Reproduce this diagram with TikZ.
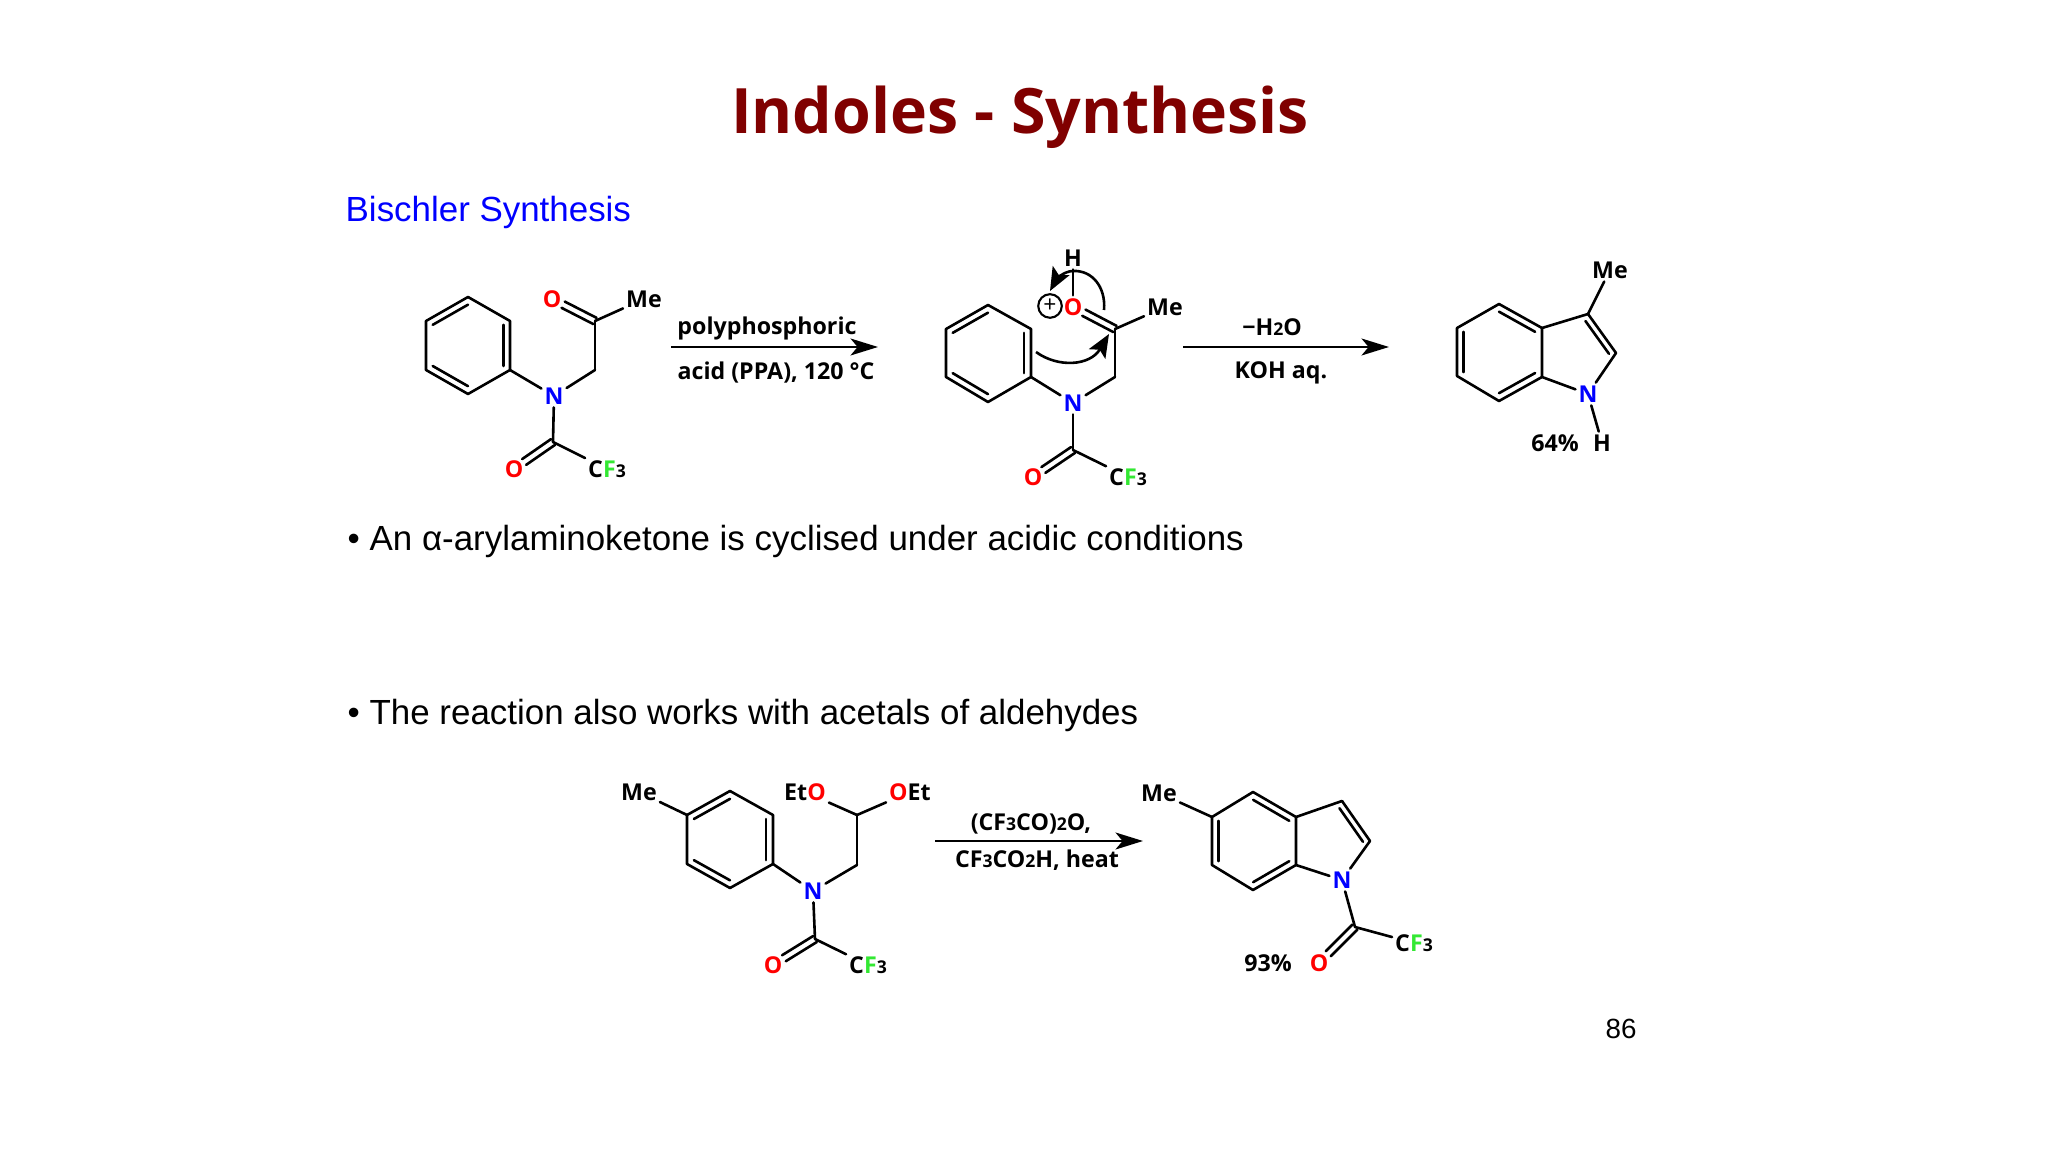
\documentclass[tikz,border=0pt]{standalone}
\usepackage{fontspec}
\setmainfont{Liberation Sans}
\newfontfamily\chemfont{Open Sans}
\usetikzlibrary{calc,arrows.meta}
\definecolor{rougetitre}{HTML}{800000}
\definecolor{vertF}{HTML}{33E833}
\newcommand{\Ind}[1]{{\fontsize{5}{5}\selectfont #1}}
\newcommand{\Oxy}{\textcolor{red}{O}}
\newcommand{\Azo}{\textcolor{blue}{N}}
\newcommand{\CFtrois}{C\textcolor{vertF}{F}\Ind{3}}
\newcommand{\Cycle}[6]{\draw[liaison] (#1)--(#2)--(#3)--(#4)--(#5)--(#6)--cycle ;}
\newcommand{\Interne}[3]{\draw[liaison] ($(#1)!0.16!(#3)$)--($(#2)!0.16!(#3)$) ;}
\newcommand{\Carbonyle}[2]{%
	\draw[liaison] ($(#1)!1pt!90:(#2)$)--($(#1)!0.74!(#2)!1pt!90:(#2)$) ;
	\draw[liaison] ($(#1)!1pt!-90:(#2)$)--($(#1)!0.74!(#2)!1pt!-90:(#2)$) ;
}
\begin{document}
\begin{tikzpicture}[x=0.01cm,y=-0.01cm]
	\tikzstyle{liaison}=[line width=0.74pt,line cap=round,line join=round]
	\tikzstyle{fleche}=[line width=0.78pt,-{Stealth[length=7.8pt,width=4.8pt,inset=2pt]}]
	\tikzstyle{courbe}=[line width=0.74pt,-{Stealth[length=6.6pt,width=5.4pt,inset=1.4pt]}]
	\tikzstyle{atome}=[font=\chemfont\bfseries\fontsize{6.6}{7}\selectfont,inner sep=0.7pt]
	\tikzstyle{etiquette}=[font=\chemfont\bfseries\fontsize{6.6}{7}\selectfont,inner sep=0pt]
	\tikzstyle{puce}=[font=\fontsize{9.93}{12}\selectfont,anchor=west,inner sep=0pt]
	\useasboundingbox (0,0) rectangle (2048,1152);
	\node[font=\chemfont\bfseries\fontsize{17.8}{20}\selectfont,text=rougetitre,inner sep=0pt] (titre) at (1020,117) {Indoles - Synthesis};
	\node[puce,text=blue] (bischler) at (345,212) {Bischler Synthesis};
	\node[puce] (puceA) at (347,541) {• An α-arylaminoketone is cyclised under acidic conditions};
	\node[puce] (puceB) at (347,715) {• The reaction also works with acetals of aldehydes};
	\node[font=\fontsize{7.9}{10}\selectfont,inner sep=0pt] (page) at (1621,1029) {86};
	% reactif
	\coordinate (Aa) at (468,297); \coordinate (Ab) at (510,321); \coordinate (Ac) at (510,370);
	\coordinate (Ad) at (468,394); \coordinate (Ae) at (426,370); \coordinate (Af) at (426,321);
	\coordinate (Ag) at (468,345);
	\coordinate (Ah) at (595,370); \coordinate (Ai) at (595,321); \coordinate (Aj) at (553,442);
	\node[atome] (AN) at (554,396) {\Azo};
	\node[atome] (AO) at (552,299) {\Oxy};
	\node[atome] (AMe) at (644,299) {Me};
	\node[atome] (AOb) at (514,469) {\Oxy};
	\node[atome] (ACF) at (607,469) {\CFtrois};
	\Cycle{Aa}{Ab}{Ac}{Ad}{Ae}{Af}
	\Interne{Aa}{Af}{Ag} \Interne{Ab}{Ac}{Ag} \Interne{Ad}{Ae}{Ag}
	\draw[liaison] (Ac)--(AN) ; \draw[liaison] (AN)--(Ah) ; \draw[liaison] (Ah)--(Ai) ;
	\draw[liaison] (Ai)--(AMe) ; \draw[liaison] (AN)--(Aj) ; \draw[liaison] (Aj)--(ACF) ;
	\Carbonyle{Ai}{AO} \Carbonyle{Aj}{AOb}
	\coordinate (Fa) at (671,347); \coordinate (Fb) at (878,347);
	\draw[fleche] (Fa)--(Fb) ;
	\node[etiquette] (Ea) at (767,328) {polyphosphoric};
	\node[etiquette] (Eb) at (776,373) {acid (PPA), 120 °C};
	% intermediaire
	\coordinate (Ba) at (988,305); \coordinate (Bb) at (1031,329); \coordinate (Bc) at (1031,377);
	\coordinate (Bd) at (988,402); \coordinate (Be) at (946,377); \coordinate (Bf) at (946,329);
	\coordinate (Bg) at (988,353);
	\coordinate (Bh) at (1115,377); \coordinate (Bi) at (1115,329); \coordinate (Bj) at (1073,450);
	\node[atome] (BN) at (1073,403) {\Azo};
	\node[atome] (BO) at (1073,307) {\Oxy};
	\node[atome] (BH) at (1073,258) {H};
	\node[atome] (BMe) at (1165,307) {Me};
	\node[atome] (BOb) at (1033,477) {\Oxy};
	\node[atome] (BCF) at (1128,477) {\CFtrois};
	\node[draw,circle,line width=0.6pt,minimum size=6.7pt,inner sep=0pt,font=\chemfont\fontsize{6.5}{7}\selectfont] (Bplus) at (1050,306) {+};
	\Cycle{Ba}{Bb}{Bc}{Bd}{Be}{Bf}
	\Interne{Ba}{Bf}{Bg} \Interne{Bb}{Bc}{Bg} \Interne{Bd}{Be}{Bg}
	\draw[liaison] (Bc)--(BN) ; \draw[liaison] (BN)--(Bh) ; \draw[liaison] (Bh)--(Bi) ;
	\draw[liaison] (Bi)--(BMe) ; \draw[liaison] (BN)--(Bj) ; \draw[liaison] (Bj)--(BCF) ;
	\draw[liaison] (BH)--(BO) ;
	\Carbonyle{Bi}{BO} \Carbonyle{Bj}{BOb}
	\coordinate (Ca) at (1104,310); \coordinate (Cb) at (1073,271); \coordinate (Cc) at (1050,291);
	\draw[courbe] (Ca) .. controls (1106,287) and (1092,270) .. (Cb) .. controls (1064,271) and (1056,280) .. (Cc) ;
	\coordinate (Cd) at (1036,352); \coordinate (Ce) at (1109,334);
	\draw[courbe] (Cd) .. controls (1058,368) and (1090,366) .. (Ce) ;
	\coordinate (Fc) at (1183,347); \coordinate (Fd) at (1389,347);
	\draw[fleche] (Fc)--(Fd) ;
	\node[etiquette] (Ec) at (1272,327) {−H\Ind{2}O};
	\node[etiquette] (Ed) at (1281,373) {KOH aq.};
	% indole
	\coordinate (Ga) at (1499,304); \coordinate (Gb) at (1542,328); \coordinate (Gc) at (1542,377);
	\coordinate (Gd) at (1499,401); \coordinate (Ge) at (1457,376); \coordinate (Gf) at (1457,328);
	\coordinate (Gg) at (1499,352);
	\coordinate (Gh) at (1588,314); \coordinate (Gi) at (1616,353); \coordinate (Gj) at (1572,358);
	\node[atome] (GN) at (1588,394) {\Azo};
	\node[atome] (GH) at (1602,443) {H};
	\node[atome] (GMe) at (1610,270) {Me};
	\node[etiquette] (Ee) at (1555,443) {64\%};
	\Cycle{Ga}{Gb}{Gc}{Gd}{Ge}{Gf}
	\Interne{Ga}{Gb}{Gg} \Interne{Gc}{Gd}{Gg} \Interne{Ge}{Gf}{Gg}
	\draw[liaison] (Gb)--(Gh) ; \draw[liaison] (Gh)--(Gi) ; \draw[liaison] (Gi)--(GN) ;
	\draw[liaison] (GN)--(Gc) ; \draw[liaison] (GN)--(GH) ; \draw[liaison] (Gh)--(GMe) ;
	\Interne{Gh}{Gi}{Gj}
	% acetal
	\coordinate (Ha) at (730,791); \coordinate (Hb) at (773,815); \coordinate (Hc) at (773,864);
	\coordinate (Hd) at (730,888); \coordinate (He) at (687,864); \coordinate (Hf) at (687,815);
	\coordinate (Hg) at (730,840);
	\coordinate (Hh) at (857,865); \coordinate (Hi) at (857,815); \coordinate (Hj) at (815,939);
	\node[atome] (HMe) at (639,792) {Me};
	\node[atome] (HN) at (813,891) {\Azo};
	\node[atome] (HOa) at (805,792) {Et\Oxy};
	\node[atome] (HOb) at (910,792) {\Oxy Et};
	\node[atome] (HOc) at (773,965) {\Oxy};
	\node[atome] (HCF) at (868,965) {\CFtrois};
	\Cycle{Ha}{Hb}{Hc}{Hd}{He}{Hf}
	\Interne{Ha}{Hf}{Hg} \Interne{Hb}{Hc}{Hg} \Interne{Hd}{He}{Hg}
	\draw[liaison] (Hf)--(HMe) ; \draw[liaison] (Hc)--(HN) ; \draw[liaison] (HN)--(Hh) ;
	\draw[liaison] (Hh)--(Hi) ; \draw[liaison] (Hi)--(HOa) ; \draw[liaison] (Hi)--(HOb) ;
	\draw[liaison] (HN)--(Hj) ; \draw[liaison] (Hj)--(HCF) ;
	\Carbonyle{Hj}{HOc}
	\coordinate (Fe) at (935,841); \coordinate (Ff) at (1143,841);
	\draw[fleche] (Fe)--(Ff) ;
	\node[etiquette] (Ef) at (1031,824) {(CF\Ind{3}CO)\Ind{2}O,};
	\node[etiquette] (Eg) at (1037,860) {CF\Ind{3}CO\Ind{2}H, heat};
	% indole acyle
	\coordinate (Ka) at (1253,792); \coordinate (Kb) at (1296,817); \coordinate (Kc) at (1296,865);
	\coordinate (Kd) at (1253,890); \coordinate (Ke) at (1212,865); \coordinate (Kf) at (1212,817);
	\coordinate (Kg) at (1254,841);
	\coordinate (Kh) at (1342,801); \coordinate (Ki) at (1370,841); \coordinate (Kj) at (1326,846);
	\coordinate (Kk) at (1355,927);
	\node[atome] (KMe) at (1159,793) {Me};
	\node[atome] (KN) at (1342,880) {\Azo};
	\node[atome] (KO) at (1319,963) {\Oxy};
	\node[atome] (KCF) at (1414,943) {\CFtrois};
	\node[etiquette] (Eh) at (1268,963) {93\%};
	\Cycle{Ka}{Kb}{Kc}{Kd}{Ke}{Kf}
	\Interne{Ka}{Kb}{Kg} \Interne{Kc}{Kd}{Kg} \Interne{Ke}{Kf}{Kg}
	\draw[liaison] (Kb)--(Kh) ; \draw[liaison] (Kh)--(Ki) ; \draw[liaison] (Ki)--(KN) ;
	\draw[liaison] (KN)--(Kc) ; \draw[liaison] (Kf)--(KMe) ; \draw[liaison] (KN)--(Kk) ;
	\draw[liaison] (Kk)--(KCF) ;
	\Interne{Kh}{Ki}{Kj} \Carbonyle{Kk}{KO}
\end{tikzpicture}
\end{document}
